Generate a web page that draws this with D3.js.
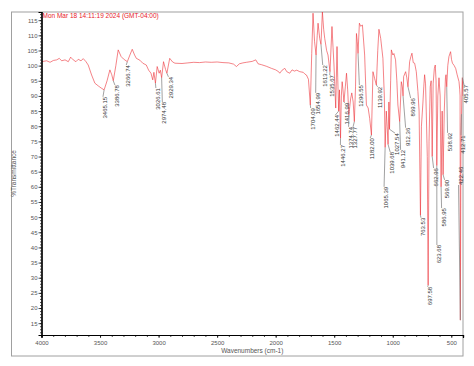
<!DOCTYPE html>
<html>
<head>
<script src="https://d3js.org/d3.v7.min.js"></script>
<style>
  body { margin: 0; background: #fff; }
  text { font-family: "Liberation Sans", Arial, sans-serif; }
</style>
</head>
<body>
<svg width="474" height="366"></svg>
<script>
// spectrum (wavenumber cm-1, %T)
var wn = [4000,3956,3927,3899,3870,3848,3828,3799,3771,3751,3729,3706,3686,3663,3643,3620,3601,3572,3544,3515,3490,3465,3440,3416,3400,3387,3365,3345,3320,3300,3267,3245,3225,3205,3190,3160,3135,3105,3085,3065,3050,3040,3027,3012,2995,2985,2974,2958,2940,2929,2905,2880,2860,2800,2750,2700,2650,2600,2550,2500,2450,2400,2360,2335,2310,2280,2250,2200,2170,2150,2120,2080,2036,2000,1975,1965,1945,1922,1905,1880,1860,1840,1820,1794,1765,1750,1737,1720,1704,1692,1681,1668,1655,1645,1638,1624,1613,1601,1590,1581,1565,1553,1536,1519,1510,1502,1487,1476,1470,1462,1455,1446,1439,1432,1425,1417,1405,1395,1385,1375,1360,1350,1338,1328,1318,1310,1303,1296.5,1285,1274,1259,1240,1225,1210,1197,1182,1169,1155,1140,1128,1118,1103,1084,1072,1065,1055,1048,1040,1033,1027.5,1018,1012,999,990,976,965,956,941,927,918,912,907,890,880,870,856,845,836,825,813,799,785,775,763.5,755,742,735,728,720,714,705,697.6,690,680,672,663,655,645,637,630,623.7,615,605,595,587,578,570,560,550,545,539,530,520,506,498,490,475,462,450,434,428,425,422.5,418,412.7,409,405.6,402,400];
var trans = [101.3,101.6,101.1,101.7,101.9,102.4,101.6,101.9,101.3,102.8,101.9,101.3,102.1,101.6,102.3,101.3,100.2,96.9,94.2,93.3,92.6,92,95,98.6,97,95,100,105.2,103,102.2,101.3,103.5,105.4,103.5,102.4,101.8,100.8,100.2,98.5,97.5,95.3,97.8,94.2,99.7,97.5,98.5,96,101.3,98.7,97.5,102.4,101.2,100.8,100.7,100.9,101.1,101.0,101.2,101.1,101.2,101.0,100.9,100.5,99.7,100.6,100.9,101.1,101.4,101.9,100.6,100.3,99.8,99.1,98.6,98.0,97.5,98.5,99.1,98.0,97.5,98.6,98.2,98.5,98.0,97.8,97.2,96.9,95.5,87,104,117.3,108,103.5,110,114,109,107,117.8,112,109,105,103.5,98,112.9,106,100.2,86,106.3,96,85,92,76,90,94.7,92,88,93,97.5,92,83.7,89,91,88,81.5,93,110.6,108,104,114,113,113.4,103.5,87,86,82.6,77.1,98,95.8,93.6,105,112,109,102.4,90,73,85,80,74,88,79,95,105.2,103.5,104,101.9,95,87,81.5,94.7,93,90,96.4,98,96,93,101.3,103,104.1,101,100.8,98,91.4,85,50.6,80,88,93,97,94,85,70,27.5,75,93,95,70,94,99,100.2,95,67,90,96,90,60,85,64,85,96,97,93,100,103,104.6,102,100.8,100,99,97,94.7,92,90,16,70,84,92,96,92,90];

// peak labels: printed text, peak position, peak %T
var peakText = ["3465.15","3386.78","3266.74","3026.61","2974.48","2929.34","1704.09","1654.99","1613.22","1535.67","1462.44","1446.27","1416.99","1374.74","1327.77","1296.55","1182.00","1139.92","1065.39","1039.68","1027.54","941.12","912.36","869.96","763.53","697.58","662.96","623.68","586.95","569.90","538.92","422.46","412.71","405.57"];
var peakWn = [3465,3387,3267,3027,2974,2929,1704,1655,1613,1536,1462,1446,1417,1375,1328,1296.5,1182,1140,1065,1040,1027.5,941,912,870,763.5,697.6,663,623.7,587,570,539,422.5,412.7,405.6];
var peakT = [92,95,101.3,94.2,96,97.5,87,103.5,107,98,85,76,88,83.7,81.5,104,77.1,93.6,73,74,79,81.5,90,93,50.6,27.5,70,67,60,64,93,16,84,96];
// where each label sits (wavenumber of text centre, %T of the text end)
var labelWn = [3458,3356,3259,3006,2951,2899,1684,1641,1581,1521,1473,1430,1393,1360,1322,1268,1176,1112,1057,1005,963,916,873,830,742,685,634,606,566,540,515,421,400,374];
var labelT = [89.7,93.6,100.2,92.6,88,96.3,86,91,100.2,96.9,83.7,73.8,87.7,79.8,79.8,93.6,76.1,93,60,71.5,77.7,72.2,79.5,89.3,49.8,27,66.2,40.8,53,62.3,77.8,60.6,77,93.6];

var xTicks = [4000,3500,3000,2500,2000,1500,1000,500];
var yTicks = [15,20,25,30,35,40,45,50,55,60,65,70,75,80,85,90,95,100,105,110,115];
var stamp = "Mon Mar 18 14:11:19 2024 (GMT-04:00)";

var svg = d3.select("svg");
var padL = 41.5, padR = 463, padT = 12, padB = 335;

var x = d3.scaleLinear().domain([4000, 400]).range([padL, padR]);
var y = d3.scaleLinear().domain([11.1, 117.7]).range([padB, padT]);

// outer frame
svg.append("rect")
   .attr("x", 11.5).attr("y", 12).attr("width", 451.5).attr("height", 344)
   .attr("fill", "none").attr("stroke", "#a0a0a0").attr("stroke-width", 1);

svg.append("clipPath").attr("id", "plot")
   .append("rect").attr("x", padL).attr("y", padT).attr("width", padR - padL).attr("height", padB - padT);

var points = wn.map(function(w, i) { return [w, trans[i]]; });
var line = d3.line().x(function(d) { return x(d[0]); }).y(function(d) { return y(d[1]); });

svg.append("path")
   .datum(points)
   .attr("clip-path", "url(#plot)")
   .attr("d", line)
   .attr("fill", "none")
   .attr("stroke", "#ec3038")
   .attr("stroke-width", 0.6);

// peak labels with leader lines
var labels = svg.append("g");
peakText.forEach(function(t, i) {
    var xp = x(peakWn[i]), yp = y(peakT[i]);
    var xt = x(labelWn[i]), yt = y(labelT[i]);
    var above = yt < yp;
    labels.append("line")
       .attr("x1", xp).attr("y1", yp)
       .attr("x2", xt - 2).attr("y2", yt)
       .attr("stroke", "#8a8a8a").attr("stroke-width", 0.8);
    labels.append("text")
       .attr("transform", "translate(" + xt + "," + yt + ") rotate(-90)")
       .attr("text-anchor", above ? "start" : "end")
       .attr("dy", "0.35em")
       .attr("font-size", 6)
       .attr("fill", "#333")
       .text(t);
});

// axes
var xMinor = d3.axisBottom(x).tickValues(d3.range(4000, 399, -100)).tickSize(2).tickFormat("");
var yMinor = d3.axisLeft(y).tickValues(d3.range(12, 118, 1)).tickSize(1.5).tickFormat("");
svg.append("g").attr("transform", "translate(0," + padB + ")").call(xMinor);
svg.append("g").attr("transform", "translate(" + padL + ",0)").call(yMinor);

svg.append("g").attr("transform", "translate(0," + padB + ")")
   .call(d3.axisBottom(x).tickValues(xTicks).tickSize(3).tickPadding(3).tickFormat(d3.format("d")));
svg.append("g").attr("transform", "translate(" + padL + ",0)")
   .call(d3.axisLeft(y).tickValues(yTicks).tickSize(3).tickPadding(1).tickFormat(d3.format("d")));

svg.selectAll(".domain").attr("stroke", "#000").attr("stroke-width", 1.2);
svg.selectAll(".tick line").attr("stroke", "#000").attr("stroke-width", 0.7);
svg.selectAll(".tick text").attr("font-size", 6).attr("fill", "#555")
   .style("font-family", "'Liberation Sans', Arial, sans-serif");

// titles
svg.append("text")
   .attr("x", (padL + padR) / 2).attr("y", 353)
   .attr("text-anchor", "middle").attr("font-size", 6.5).attr("fill", "#555")
   .text("Wavenumbers (cm-1)");

svg.append("text")
   .attr("transform", "translate(16," + (padT + padB) / 2 + ") rotate(-90)")
   .attr("text-anchor", "middle").attr("font-size", 6.5).attr("fill", "#555")
   .text("%Transmittance");

svg.append("text")
   .attr("x", padL + 1).attr("y", 18)
   .attr("font-size", 6.5).attr("fill", "#e8202a")
   .text(stamp);
</script>
</body>
</html>
